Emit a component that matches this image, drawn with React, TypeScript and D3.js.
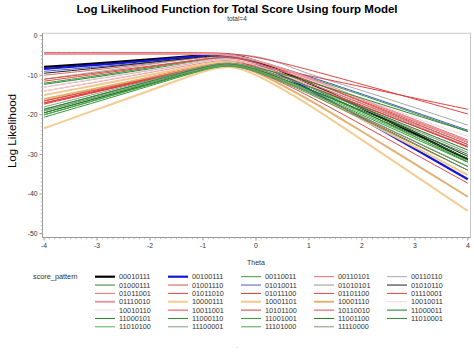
import React from "react";
import * as d3 from "d3";

const theta = [-4, -3, -2, -1, -0.5, 0, 0.5, 1, 2, 3, 4];

const patterns = [
  "00010111", "00100111", "00110011", "00110101", "00110110",
  "01000111", "01001110", "01010011", "01010101", "01010110",
  "01011001", "01011010", "01011100", "01101100", "01110001",
  "01110010", "10000111", "10001101", "10001110", "10010011",
  "10010110", "10011001", "10101100", "10110010", "11000011",
  "11000101", "11000110", "11001001", "11001100", "11010001",
  "11010100", "11100001", "11101000", "11110000",
];

const colors = [
  "#000000", "#1414d8", "#3a9a3a", "#e06a6a", "#a8a8a8",
  "#2f822f", "#d2523e", "#4a5ac8", "#989898", "#202020",
  "#e47272", "#d84444", "#dc3434", "#e04444", "#e04040",
  "#ea98a2", "#f4cc92", "#f2c88c", "#e2b070", "#f8d2da",
  "#f8d0d8", "#e04a4a", "#e03a3a", "#e04a4a", "#1f7a1f",
  "#267f26", "#2a862a", "#339a33", "#1f7a1f", "#2e8b2e",
  "#5cae5c", "#80a080", "#4ea04e", "#789878",
];

const widths = [
  2.2, 2.2, 1, 1, 1,
  1, 1, 1, 1, 1,
  1, 1, 1, 1, 1,
  2, 2, 2, 2, 1,
  1, 1, 1, 1, 1,
  1, 1, 1, 1, 1,
  1, 1, 1, 1,
];

const loglik = [
  [-7.9, -7.0, -6.0, -4.9, -4.5, -6.2, -9.0, -12.0, -18.3, -24.8, -31.3],
  [-8.4, -7.4, -6.4, -5.0, -4.7, -6.8, -10.0, -13.5, -21.0, -28.6, -36.3],
  [-12.0, -10.1, -8.1, -6.0, -5.2, -6.5, -8.5, -10.6, -15.0, -19.6, -24.2],
  [-10.0, -8.6, -7.1, -5.5, -4.9, -6.3, -8.6, -10.9, -16.0, -21.2, -26.4],
  [-11.0, -9.1, -7.3, -5.3, -4.7, -5.0, -7.0, -9.8, -13.8, -18.2, -22.6],
  [-12.3, -10.4, -8.4, -6.3, -5.5, -7.3, -10.0, -12.9, -19.1, -25.5, -31.9],
  [-11.0, -9.4, -7.7, -5.9, -5.2, -6.7, -9.0, -11.3, -16.5, -21.7, -27.0],
  [-9.0, -7.9, -6.7, -5.4, -4.9, -6.2, -8.2, -10.3, -14.7, -19.3, -23.9],
  [-13.0, -10.9, -8.8, -6.5, -5.7, -7.3, -9.5, -11.9, -17.2, -22.6, -28.0],
  [-9.5, -8.2, -6.8, -5.3, -4.7, -6.4, -9.0, -11.9, -18.0, -24.3, -30.5],
  [-14.0, -11.7, -9.3, -6.8, -5.9, -7.4, -9.6, -12.0, -17.1, -22.3, -27.5],
  [-16.5, -13.5, -10.5, -7.3, -6.2, -7.7, -10.0, -12.4, -17.6, -22.9, -28.2],
  [-17.0, -13.9, -10.9, -7.6, -6.5, -8.4, -11.1, -14.1, -20.7, -27.3, -34.0],
  [-4.3, -4.3, -4.3, -4.3, -4.4, -5.4, -6.9, -8.6, -12.3, -16.0, -19.8],
  [-17.3, -14.2, -11.1, -7.8, -6.7, -7.5, -8.8, -10.1, -12.9, -15.8, -18.6],
  [-4.6, -4.6, -4.6, -4.6, -4.7, -6.2, -8.3, -10.7, -16.0, -21.4, -26.8],
  [-23.4, -18.6, -13.9, -8.9, -7.2, -9.8, -13.5, -17.4, -26.3, -35.3, -44.3],
  [-15.0, -12.5, -9.9, -7.2, -6.2, -8.3, -11.2, -14.3, -21.1, -28.2, -35.2],
  [-16.0, -13.3, -10.6, -7.7, -6.7, -9.1, -12.5, -16.1, -24.2, -32.4, -40.7],
  [-13.0, -10.8, -8.7, -6.3, -5.5, -7.0, -9.0, -11.1, -15.9, -20.7, -25.5],
  [-14.0, -11.6, -9.2, -6.6, -5.7, -7.4, -9.8, -12.4, -18.0, -23.7, -29.5],
  [-16.5, -13.7, -10.8, -7.8, -6.7, -8.9, -11.9, -15.2, -22.5, -29.9, -37.3],
  [-17.0, -14.1, -11.1, -8.0, -6.9, -8.5, -10.5, -12.8, -17.8, -22.9, -28.0],
  [-11.5, -9.7, -7.9, -5.9, -5.2, -6.8, -9.0, -11.4, -16.7, -22.1, -27.5],
  [-18.6, -15.1, -11.5, -7.8, -6.5, -8.1, -10.4, -12.8, -18.1, -23.5, -28.9],
  [-19.5, -15.8, -12.0, -8.1, -6.7, -8.4, -10.9, -13.5, -19.2, -25.1, -31.0],
  [-20.0, -16.2, -12.3, -8.3, -6.9, -8.8, -11.4, -14.2, -20.4, -26.8, -33.1],
  [-20.6, -16.7, -12.7, -8.6, -7.2, -9.0, -11.5, -14.1, -20.0, -26.0, -32.0],
  [-19.5, -15.8, -12.2, -8.3, -7.0, -8.6, -11.0, -13.4, -18.9, -24.4, -30.0],
  [-18.6, -15.1, -11.6, -8.0, -6.7, -8.0, -9.7, -11.6, -15.8, -20.0, -24.2],
  [-19.0, -15.5, -11.9, -8.2, -6.9, -8.6, -11.1, -13.8, -19.6, -25.6, -31.5],
  [-18.0, -14.6, -11.3, -7.7, -6.5, -8.1, -10.5, -12.9, -18.4, -23.9, -29.5],
  [-20.0, -16.2, -12.4, -8.5, -7.1, -9.0, -11.7, -14.6, -21.0, -27.5, -34.0],
  [-19.0, -15.5, -11.9, -8.2, -6.9, -8.8, -11.4, -14.2, -20.4, -26.7, -33.0],
];

const xTicks = [-4, -3, -2, -1, 0, 1, 2, 3, 4];
const yTicks = [0, -10, -20, -30, -40, -50];

const FONT = "'Liberation Sans', Arial, sans-serif";

export default function App() {
  const W = 474;
  const H = 355;
  const x = d3.scaleLinear().domain([-4.03, 4.05]).range([42.5, 470.5]);
  const y = d3.scaleLinear().domain([-51, 0.6]).range([237.5, 33.3]);
  const line = d3
    .line<number>()
    .x((_, i) => x(theta[i]))
    .y((d) => y(d))
    .curve(d3.curveBasis);

  const xMinor = d3.range(-40, 41).map((v) => v / 10).filter((v) => Math.abs(v - Math.round(v)) > 1e-6);
  const yMinor = d3.range(-50, 1).filter((v) => v % 10 !== 0);

  const legendX0 = 95;
  const legendDx = 73;
  const legendY0 = 276.7;
  const legendDy = 8.35;

  return (
    <svg
      width={W}
      height={H}
      style={{ position: "absolute", left: 0, top: 0, background: "#fff" }}
      fontFamily={FONT}
    >
      <rect x={0} y={0} width={W} height={H} fill="#fff" />
      <text x={237} y={13} textAnchor="middle" fontSize={11.5} fontWeight="bold" fill="#000">
        Log Likelihood Function for Total Score Using fourp Model
      </text>
      <text x={237} y={21} textAnchor="middle" fontSize={6.5} fill="#333">
        total=4
      </text>

      <rect
        x={x.range()[0]}
        y={y.range()[1]}
        width={x.range()[1] - x.range()[0]}
        height={y.range()[0] - y.range()[1]}
        fill="none"
        stroke="#c8c8c8"
        strokeWidth={1}
      />

      <g>
        {loglik.map((vals, i) => (
          <path
            key={patterns[i]}
            d={line(vals) || ""}
            fill="none"
            stroke={colors[i]}
            strokeWidth={widths[i]}
          />
        ))}
      </g>

      <line x1={42.5} x2={42.5} y1={33.3} y2={237.5} stroke="#999" />
      {yTicks.map((t) => (
        <g key={"y" + t}>
          <line x1={39.5} x2={42.5} y1={y(t)} y2={y(t)} stroke="#999" />
          <text x={37.5} y={y(t) + 2.3} textAnchor="end" fontSize={6.8} fill="#333">
            {t}
          </text>
        </g>
      ))}
      {yMinor.map((t) => (
        <line key={"ym" + t} x1={40.8} x2={42.5} y1={y(t)} y2={y(t)} stroke="#aaa" strokeWidth={0.8} />
      ))}
      <text transform={`translate(16,131) rotate(-90)`} textAnchor="middle" fontSize={11.5} fill="#000">
        Log Likelihood
      </text>

      <line x1={42.5} x2={470.5} y1={237.5} y2={237.5} stroke="#999" />
      {xTicks.map((t) => (
        <g key={"x" + t}>
          <line x1={x(t)} x2={x(t)} y1={237.5} y2={240.5} stroke="#999" />
          <text x={x(t)} y={248} textAnchor="middle" fontSize={6.8} fill="#333">
            {t}
          </text>
        </g>
      ))}
      {xMinor.map((t) => (
        <line key={"xm" + t} x1={x(t)} x2={x(t)} y1={237.5} y2={239.2} stroke="#aaa" strokeWidth={0.8} />
      ))}
      <text x={256} y={265} textAnchor="middle" fontSize={7} fill="#333">
        Theta
      </text>

      <text x={33} y={279.3} fontSize={7.3} fill="#333">
        score_pattern
      </text>
      {patterns.map((p, i) => {
        const col = i % 5;
        const row = Math.floor(i / 5);
        const lx = legendX0 + col * legendDx;
        const ly = legendY0 + row * legendDy;
        return (
          <g key={"lg" + p}>
            <line x1={lx} x2={lx + 20} y1={ly} y2={ly} stroke={colors[i]} strokeWidth={widths[i]} />
            <text x={lx + 24} y={ly + 2.6} fontSize={7.3} fill="#333">
              {p}
            </text>
          </g>
        );
      })}
      <text x={237} y={348} textAnchor="middle" fontSize={6} fill="#666">
        .
      </text>
    </svg>
  );
}
